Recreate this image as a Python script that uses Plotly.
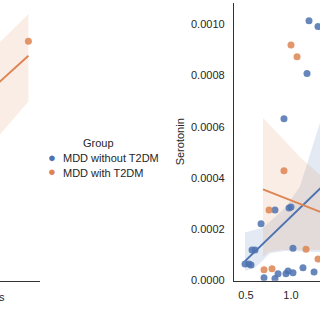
import plotly.graph_objects as go

# ---------------- data (right panel: Serotonin) ----------------
blue_x = [1.200, 1.300, 1.178, 0.922, 0.822, 0.978, 1.000, 0.667, 0.567, 0.600,
          0.489, 0.533, 0.556, 1.022, 0.700, 0.822, 0.856, 0.944, 0.967, 1.022,
          1.133, 1.256]
blue_y = [1.013e-3, 9.90e-4, 8.07e-4, 6.31e-4, 2.75e-4, 2.83e-4, 2.87e-4, 2.22e-4,
          1.19e-4, 1.19e-4, 6.5e-5, 6.5e-5, 6.1e-5, 1.26e-4, 1.1e-5, 8e-6,
          2.7e-5, 2.7e-5, 3.8e-5, 3.1e-5, 5.0e-5, 3.4e-5]
orange_x = [1.000, 1.067, 0.922, 0.756, 1.167, 1.300, 0.700, 0.789]
orange_y = [9.18e-4, 8.72e-4, 4.28e-4, 2.75e-4, 1.22e-4, 8.4e-5, 4.2e-5, 4.6e-5]

blue_fit_x = [0.489, 1.45]
blue_fit_y = [7.6e-5, 4.02e-4]
orange_fit_x = [0.689, 1.45]
orange_fit_y = [3.556e-4, 2.51e-4]

blue_ci_up_x = [0.489, 0.689, 0.933, 1.100, 1.322, 1.433]
blue_ci_up_y = [1.874e-4, 2.065e-4, 2.83e-4, 3.67e-4, 6.16e-4, 7.3e-4]
blue_ci_lo_x = [0.489, 0.600, 0.678, 0.767, 0.933, 1.433]
blue_ci_lo_y = [3.8e-5, 5.0e-5, 7.6e-5, 1.07e-4, 1.15e-4, 1.11e-4]

orange_ci_up_x = [0.689, 1.100, 1.322, 1.433]
orange_ci_up_y = [6.35e-4, 4.82e-4, 4.13e-4, 3.82e-4]
orange_ci_lo_x = [0.689, 0.744, 0.878, 1.433]
orange_ci_lo_y = [9.2e-5, 1.11e-4, 1.19e-4, 1.19e-4]

y_ticks = [0.0, 0.0002, 0.0004, 0.0006, 0.0008, 0.0010]
x_ticks = [0.5, 1.0, 1.5]
x_tick_text = ["0.5", "1.0", "1.5"]

legend_title = "Group"
group_names = ["MDD without T2DM", "MDD with T2DM"]

# ---------------- data (left panel, partially visible) ----------------
left_pt_x = [0.71]
left_pt_y = [0.862]
left_fit_x = [-0.1, 0.71]
left_fit_y = [0.704, 0.810]
left_ci_up_x = [-0.1, 0.71]
left_ci_up_y = [0.845, 0.960]
left_ci_lo_x = [-0.1, 0.71]
left_ci_lo_y = [0.510, 0.645]
left_tick_fragment = "s"

BLUE = "#4C72B0"
ORANGE = "#DD8452"
BLUE_BAND = "rgba(76,114,176,0.15)"
ORANGE_BAND = "rgba(221,132,82,0.15)"
TXT = "#262626"
FONT = "Liberation Sans, Arial, sans-serif"


def band(xu, yu, xl, yl, color, xa, ya):
    xs = list(xu) + list(reversed(xl))
    ys = list(yu) + list(reversed(yl))
    return go.Scatter(x=xs, y=ys, fill="toself", fillcolor=color, mode="none",
                      line=dict(width=0), showlegend=False, hoverinfo="skip",
                      xaxis=xa, yaxis=ya)


fig = go.Figure()

# left panel
fig.add_trace(band(left_ci_up_x, left_ci_up_y, left_ci_lo_x, left_ci_lo_y, ORANGE_BAND, "x2", "y2"))
fig.add_trace(go.Scatter(x=left_fit_x, y=left_fit_y, mode="lines", line=dict(color=ORANGE, width=2),
                         showlegend=False, xaxis="x2", yaxis="y2"))
fig.add_trace(go.Scatter(x=left_pt_x, y=left_pt_y, mode="markers",
                         marker=dict(color=ORANGE, size=7, opacity=0.85),
                         showlegend=False, xaxis="x2", yaxis="y2"))

# right panel bands
fig.add_trace(band(blue_ci_up_x, blue_ci_up_y, blue_ci_lo_x, blue_ci_lo_y, BLUE_BAND, "x", "y"))
fig.add_trace(band(orange_ci_up_x, orange_ci_up_y, orange_ci_lo_x, orange_ci_lo_y, ORANGE_BAND, "x", "y"))
# lines
fig.add_trace(go.Scatter(x=blue_fit_x, y=blue_fit_y, mode="lines", line=dict(color=BLUE, width=2),
                         showlegend=False))
fig.add_trace(go.Scatter(x=orange_fit_x, y=orange_fit_y, mode="lines", line=dict(color=ORANGE, width=2),
                         showlegend=False))
# points
fig.add_trace(go.Scatter(x=blue_x, y=blue_y, mode="markers", name=group_names[0],
                         marker=dict(color=BLUE, size=7, opacity=0.85), showlegend=False))
fig.add_trace(go.Scatter(x=orange_x, y=orange_y, mode="markers", name=group_names[1],
                         marker=dict(color=ORANGE, size=7, opacity=0.85), showlegend=False))

W = H = 320


def px_x(p):
    return p / W


def px_y(p):
    return (H - p) / H


# legend drawn as text (title, colored glyph, label)
annotations = [
    dict(text=legend_title, x=px_x(98), y=px_y(146), xanchor="center", yanchor="middle"),
]
for i, (name, col) in enumerate(zip(group_names, [BLUE, ORANGE])):
    yc = 161 + 15 * i
    annotations.append(dict(text="●", x=px_x(52), y=px_y(yc - 1), xanchor="center",
                            yanchor="middle", font=dict(size=13, color=col), borderpad=0))
    annotations.append(dict(text=name, x=px_x(62), y=px_y(yc), xanchor="left",
                            yanchor="middle", borderpad=0))
annotations.append(dict(text=left_tick_fragment, x=px_x(-3), y=px_y(303), xanchor="left",
                        yanchor="middle"))
for a in annotations:
    a.update(xref="paper", yref="paper", showarrow=False)
    a.setdefault("font", dict(size=11, color=TXT))

fig.update_layout(
    width=W, height=H, margin=dict(l=0, r=0, t=0, b=0),
    paper_bgcolor="white", plot_bgcolor="rgba(0,0,0,0)",
    font=dict(family=FONT, size=11, color=TXT),
    showlegend=False,
    xaxis=dict(domain=[234 / W, 1], range=[0.3667, 1.3222], tickvals=x_ticks,
               ticktext=x_tick_text, showline=True, linecolor="#333333",
               linewidth=1.3, showgrid=False, zeroline=False, ticks="",
               ticklabelstandoff=4, tickfont=dict(size=11, color=TXT)),
    yaxis=dict(domain=[(H - 286) / H, (H - 3) / H], range=[0, 0.001082], tickvals=y_ticks,
               tickformat=".4f", showline=True, linecolor="#333333", linewidth=1.3,
               showgrid=False, zeroline=False, ticks="", ticklabelstandoff=6,
               title=dict(text="Serotonin", standoff=4, font=dict(size=11, color=TXT)),
               tickfont=dict(size=11, color=TXT)),
    xaxis2=dict(domain=[0, 40 / W], range=[0, 1], anchor="y2", showline=True,
                linecolor="#333333", linewidth=1.3, showgrid=False, zeroline=False,
                showticklabels=False, ticks=""),
    yaxis2=dict(domain=[(H - 286) / H, (H - 3) / H], range=[0, 1], anchor="x2",
                showline=False, showgrid=False, zeroline=False, showticklabels=False, ticks=""),
    annotations=annotations,
)

fig.write_html("out.html")
